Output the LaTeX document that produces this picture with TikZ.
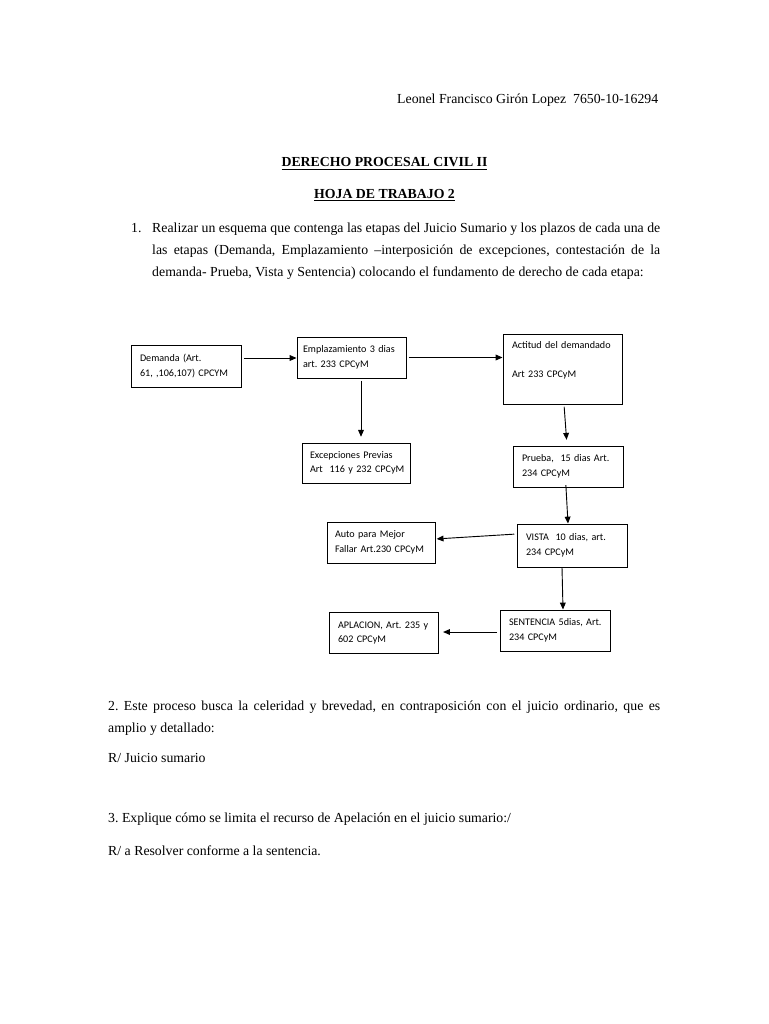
\documentclass[tikz,border=0pt]{standalone}
\usepackage{fontspec}
\setmainfont{Liberation Serif}
\newfontfamily\calibri{Carlito}
\usetikzlibrary{arrows.meta}
\frenchspacing

% one pixel of the page
\newdimen\px
\px=0.8696pt

\begin{document}
\begin{tikzpicture}[x=0.8696pt, y=-0.8696pt,
    line/.style={anchor=base west, inner sep=0pt, font=\fontsize{12}{14}\selectfont},
    head/.style={anchor=base, inner sep=0pt, font=\fontsize{12}{14}\selectfont\bfseries},
    etapa/.style={draw, line width=0.8pt, align=left, inner xsep=9\px, inner ysep=0pt,
      font=\calibri\fontsize{8.8}{12.6}\selectfont},
    flecha/.style={-{Triangle[width=5pt,length=6pt]}, line width=0.8pt}]

  % page
  \useasboundingbox (0,0) rectangle (768,1024);

  % heading
  \node[line] (autor) at (397,104) {Leonel Francisco Girón Lopez\ \ 7650-10-16294};
  \node[head] (curso) at (384.5,167) {\underline{DERECHO PROCESAL CIVIL II}};
  \node[head] (hoja) at (384.5,198) {\underline{HOJA DE TRABAJO 2}};

  % question 1
  \node[line] (n1) at (131,232) {1.};
  \node[line] (p1a) at (152,232) {\makebox[508\px][s]{Realizar un esquema que contenga las etapas del Juicio Sumario y los plazos de cada una de}};
  \node[line] (p1b) at (152,254) {\makebox[508\px][s]{las etapas (Demanda, Emplazamiento –interposición de excepciones, contestación de la}};
  \node[line] (p1c) at (152,276) {demanda- Prueba, Vista y Sentencia) colocando el fundamento de derecho de cada etapa:};

  % the stages
  \node[etapa, text width=92\px, minimum height=42\px] (demanda) at (186,366) {\mbox{Demanda (Art.}\\\mbox{61, ,106,107) CPCYM}};
  \node[etapa, inner xsep=6\px, text width=97\px, minimum height=41\px] (emplaz) at (351.5,357.5) {\mbox{Emplazamiento 3 dias}\\\mbox{art. 233 CPCyM}};
  \node[etapa, text width=101\px, minimum height=70\px] (actitud) at (562.5,369) {\mbox{Actitud del demandado}\\[14.5\px]\mbox{Art 233 CPCyM}\\ \strut};
  \node[etapa, inner xsep=8\px, text width=92\px, minimum height=40\px] (excep) at (356,463) {\mbox{Excepciones Previas}\\\mbox{Art\ \ 116 y 232 CPCyM}};
  \node[etapa, text width=92\px, minimum height=41\px] (prueba) at (568,466.5) {\mbox{Prueba,\ \ 15 dias Art.}\\\mbox{234 CPCyM}};
  \node[etapa, text width=92\px, minimum height=43\px] (vista) at (572,545.5) {\mbox{VISTA\ \ 10 dias, art.}\\\mbox{234 CPCyM}};
  \node[etapa, inner xsep=8\px, text width=92\px, minimum height=41\px] (auto) at (381,542.5) {\mbox{Auto para Mejor}\\\mbox{Fallar Art.230 CPCyM}};
  \node[etapa, text width=92\px, minimum height=41\px] (sentencia) at (555,630.5) {\mbox{SENTENCIA 5dias, Art.}\\\mbox{234 CPCyM}};
  \node[etapa, text width=91\px, minimum height=41\px] (apelacion) at (383.5,633) {\mbox{APLACION, Art. 235 y}\\\mbox{602 CPCyM}};

  % arrows
  \draw[flecha, shorten <=2pt] (demanda.east |- 0,358) -- (emplaz.west |- 0,358);
  \draw[flecha, shorten <=2pt] (emplaz.east) -- (emplaz.east -| actitud.west);
  \draw[flecha, shorten <=2pt, shorten >=5pt] (emplaz.south -| 361,0) -- (excep.north -| 361,0);
  \draw[flecha, shorten <=2pt, shorten >=5pt] (actitud.south -| 564,0) -- (prueba.north -| 567,0);
  \draw[flecha, shorten <=-2pt] (prueba.south -| 566,0) -- (vista.north -| 568,0);
  \draw[flecha, shorten <=2pt, shorten >=1pt] (vista.west |- 0,534) -- (auto.east |- 0,539);
  \draw[flecha] (vista.south -| 562,0) -- (sentencia.north -| 563,0);
  \draw[flecha, shorten <=2pt, shorten >=4pt] (sentencia.west |- 0,632) -- (apelacion.east |- 0,632);

  % questions 2 and 3
  \node[line] (p2a) at (108,710) {\makebox[552\px][s]{2. Este proceso busca la celeridad y brevedad, en contraposición con el juicio ordinario, que es}};
  \node[line] (p2b) at (108,732) {amplio y detallado:};
  \node[line] (r2) at (108,762) {R/ Juicio sumario};
  \node[line] (p3) at (108,822) {3. Explique cómo se limita el recurso de Apelación en el juicio sumario:/};
  \node[line] (r3) at (108,855) {R/ a Resolver conforme a la sentencia.};
\end{tikzpicture}
\end{document}
